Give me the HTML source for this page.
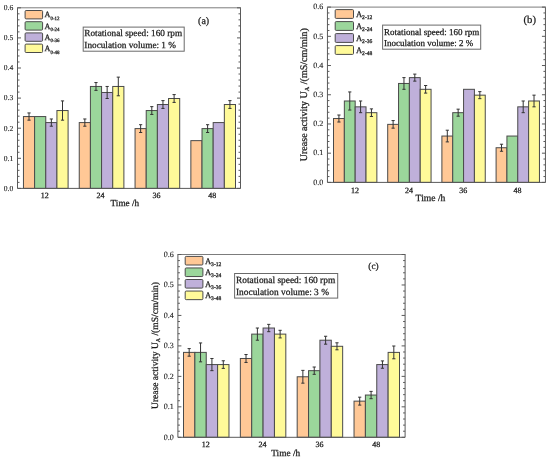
<!DOCTYPE html>
<html><head><meta charset="utf-8"><title>Urease activity charts</title>
<style>
html,body{margin:0;padding:0;background:#fff;}
body{width:550px;height:458px;overflow:hidden;}
svg{display:block;text-rendering:geometricPrecision;}
text{font-family:'Liberation Serif', 'Times New Roman', serif;fill:#1a1a1a;stroke:#1a1a1a;stroke-width:0.25px;}
.tk{stroke-width:0.12px;}
</style></head><body>
<svg width="550" height="458" viewBox="0 0 550 458">
<rect width="550" height="458" fill="#fff"/>
<rect x="23.45" y="116.56" width="11.16" height="71.84" fill="#FFC896" stroke="#4a4a4a" stroke-width="1"/>
<rect x="34.61" y="116.56" width="11.16" height="71.84" fill="#9BD69B" stroke="#4a4a4a" stroke-width="1"/>
<rect x="45.77" y="122.58" width="11.16" height="65.82" fill="#BFB0DA" stroke="#4a4a4a" stroke-width="1"/>
<rect x="56.93" y="110.54" width="11.16" height="77.86" fill="#FFFA99" stroke="#4a4a4a" stroke-width="1"/>
<rect x="79.25" y="122.58" width="11.16" height="65.82" fill="#FFC896" stroke="#4a4a4a" stroke-width="1"/>
<rect x="90.41" y="86.46" width="11.16" height="101.94" fill="#9BD69B" stroke="#4a4a4a" stroke-width="1"/>
<rect x="101.57" y="92.48" width="11.16" height="95.92" fill="#BFB0DA" stroke="#4a4a4a" stroke-width="1"/>
<rect x="112.73" y="86.46" width="11.16" height="101.94" fill="#FFFA99" stroke="#4a4a4a" stroke-width="1"/>
<rect x="135.06" y="128.6" width="11.16" height="59.8" fill="#FFC896" stroke="#4a4a4a" stroke-width="1"/>
<rect x="146.22" y="110.54" width="11.16" height="77.86" fill="#9BD69B" stroke="#4a4a4a" stroke-width="1"/>
<rect x="157.38" y="104.52" width="11.16" height="83.88" fill="#BFB0DA" stroke="#4a4a4a" stroke-width="1"/>
<rect x="168.54" y="98.5" width="11.16" height="89.9" fill="#FFFA99" stroke="#4a4a4a" stroke-width="1"/>
<rect x="190.86" y="140.64" width="11.16" height="47.76" fill="#FFC896" stroke="#4a4a4a" stroke-width="1"/>
<rect x="202.02" y="128.6" width="11.16" height="59.8" fill="#9BD69B" stroke="#4a4a4a" stroke-width="1"/>
<rect x="213.18" y="122.58" width="11.16" height="65.82" fill="#BFB0DA" stroke="#4a4a4a" stroke-width="1"/>
<rect x="224.34" y="104.52" width="11.16" height="83.88" fill="#FFFA99" stroke="#4a4a4a" stroke-width="1"/>
<path d="M29.03 112.95V120.17M27.43 112.95H30.63M27.43 120.17H30.63" stroke="#333" stroke-width="1" fill="none"/>
<path d="M51.35 118.97V126.19M49.75 118.97H52.95M49.75 126.19H52.95" stroke="#333" stroke-width="1" fill="none"/>
<path d="M62.51 100.91V120.17M60.91 100.91H64.11M60.91 120.17H64.11" stroke="#333" stroke-width="1" fill="none"/>
<path d="M84.83 118.97V126.19M83.23 118.97H86.43M83.23 126.19H86.43" stroke="#333" stroke-width="1" fill="none"/>
<path d="M95.99 82.55V90.37M94.39 82.55H97.59M94.39 90.37H97.59" stroke="#333" stroke-width="1" fill="none"/>
<path d="M107.15 86.46V98.5M105.55 86.46H108.75M105.55 98.5H108.75" stroke="#333" stroke-width="1" fill="none"/>
<path d="M118.31 77.13V95.79M116.71 77.13H119.91M116.71 95.79H119.91" stroke="#333" stroke-width="1" fill="none"/>
<path d="M140.64 124.69V132.51M139.04 124.69H142.24M139.04 132.51H142.24" stroke="#333" stroke-width="1" fill="none"/>
<path d="M151.8 106.63V114.45M150.2 106.63H153.4M150.2 114.45H153.4" stroke="#333" stroke-width="1" fill="none"/>
<path d="M162.96 100.61V108.43M161.36 100.61H164.56M161.36 108.43H164.56" stroke="#333" stroke-width="1" fill="none"/>
<path d="M174.12 94.59V102.41M172.52 94.59H175.72M172.52 102.41H175.72" stroke="#333" stroke-width="1" fill="none"/>
<path d="M207.6 124.69V132.51M206 124.69H209.2M206 132.51H209.2" stroke="#333" stroke-width="1" fill="none"/>
<path d="M229.92 100.61V108.43M228.32 100.61H231.52M228.32 108.43H231.52" stroke="#333" stroke-width="1" fill="none"/>
<path d="M17.5 7.8V188.4H240.5V7.8" fill="none" stroke="#5a5a5a" stroke-width="1"/>
<path d="M17 7.8H241" fill="none" stroke="#7c7c7c" stroke-width="1"/>
<path d="M17.5 188.4h3.5M240.5 188.4h-3.5M17.5 182.38h2M240.5 182.38h-2M17.5 176.36h2M240.5 176.36h-2M17.5 170.34h2M240.5 170.34h-2M17.5 164.32h2M240.5 164.32h-2M17.5 158.3h3.5M240.5 158.3h-3.5M17.5 152.28h2M240.5 152.28h-2M17.5 146.26h2M240.5 146.26h-2M17.5 140.24h2M240.5 140.24h-2M17.5 134.22h2M240.5 134.22h-2M17.5 128.2h3.5M240.5 128.2h-3.5M17.5 122.18h2M240.5 122.18h-2M17.5 116.16h2M240.5 116.16h-2M17.5 110.14h2M240.5 110.14h-2M17.5 104.12h2M240.5 104.12h-2M17.5 98.1h3.5M240.5 98.1h-3.5M17.5 92.08h2M240.5 92.08h-2M17.5 86.06h2M240.5 86.06h-2M17.5 80.04h2M240.5 80.04h-2M17.5 74.02h2M240.5 74.02h-2M17.5 68h3.5M240.5 68h-3.5M17.5 61.98h2M240.5 61.98h-2M17.5 55.96h2M240.5 55.96h-2M17.5 49.94h2M240.5 49.94h-2M17.5 43.92h2M240.5 43.92h-2M17.5 37.9h3.5M240.5 37.9h-3.5M17.5 31.88h2M240.5 31.88h-2M17.5 25.86h2M240.5 25.86h-2M17.5 19.84h2M240.5 19.84h-2M17.5 13.82h2M240.5 13.82h-2M17.5 7.8h3.5M240.5 7.8h-3.5" stroke="#5a5a5a" stroke-width="1" fill="none"/>
<text x="13.3" y="190.7" font-size="7.6" text-anchor="end" class="tk">0.0</text>
<text x="13.3" y="160.6" font-size="7.6" text-anchor="end" class="tk">0.1</text>
<text x="13.3" y="130.5" font-size="7.6" text-anchor="end" class="tk">0.2</text>
<text x="13.3" y="100.4" font-size="7.6" text-anchor="end" class="tk">0.3</text>
<text x="13.3" y="70.3" font-size="7.6" text-anchor="end" class="tk">0.4</text>
<text x="13.3" y="40.2" font-size="7.6" text-anchor="end" class="tk">0.5</text>
<text x="13.3" y="10.1" font-size="7.6" text-anchor="end" class="tk">0.6</text>
<text x="44.77" y="198.2" font-size="8" text-anchor="middle">12</text>
<text x="100.57" y="198.2" font-size="8" text-anchor="middle">24</text>
<text x="156.38" y="198.2" font-size="8" text-anchor="middle">36</text>
<text x="212.18" y="198.2" font-size="8" text-anchor="middle">48</text>
<text x="124.85" y="205.8" font-size="9.2" text-anchor="middle">Time /h</text>
<rect x="25.1" y="10.5" width="17.5" height="8.4" rx="1" fill="#FFC896" stroke="#4a4a4a" stroke-width="1"/>
<text x="44.5" y="17.4" font-size="8.2">A<tspan font-size="5.0" dy="2.5">0-12</tspan></text>
<rect x="25.1" y="21.7" width="17.5" height="8.4" rx="1" fill="#9BD69B" stroke="#4a4a4a" stroke-width="1"/>
<text x="44.5" y="28.6" font-size="8.2">A<tspan font-size="5.0" dy="2.5">0-24</tspan></text>
<rect x="25.1" y="32.9" width="17.5" height="8.4" rx="1" fill="#BFB0DA" stroke="#4a4a4a" stroke-width="1"/>
<text x="44.5" y="39.8" font-size="8.2">A<tspan font-size="5.0" dy="2.5">0-36</tspan></text>
<rect x="25.1" y="44.1" width="17.5" height="8.4" rx="1" fill="#FFFA99" stroke="#4a4a4a" stroke-width="1"/>
<text x="44.5" y="51" font-size="8.2">A<tspan font-size="5.0" dy="2.5">0-48</tspan></text>
<rect x="83.2" y="27.1" width="101" height="24.1" fill="#fff" stroke="#6a6a6a" stroke-width="1"/>
<text x="84.3" y="36.2" font-size="9.25">Rotational speed: 160 rpm</text>
<text x="84.3" y="48" font-size="9.25">Inoculation volume: 1 %</text>
<text x="198.1" y="24" font-size="10">(a)</text>
<rect x="333.5" y="118.52" width="10.84" height="63.88" fill="#FFC896" stroke="#4a4a4a" stroke-width="1"/>
<rect x="344.34" y="100.99" width="10.84" height="81.41" fill="#9BD69B" stroke="#4a4a4a" stroke-width="1"/>
<rect x="355.18" y="106.84" width="10.84" height="75.56" fill="#BFB0DA" stroke="#4a4a4a" stroke-width="1"/>
<rect x="366.02" y="112.68" width="10.84" height="69.72" fill="#FFFA99" stroke="#4a4a4a" stroke-width="1"/>
<rect x="387.7" y="124.37" width="10.84" height="58.03" fill="#FFC896" stroke="#4a4a4a" stroke-width="1"/>
<rect x="398.54" y="83.46" width="10.84" height="98.94" fill="#9BD69B" stroke="#4a4a4a" stroke-width="1"/>
<rect x="409.38" y="77.62" width="10.84" height="104.78" fill="#BFB0DA" stroke="#4a4a4a" stroke-width="1"/>
<rect x="420.22" y="89.31" width="10.84" height="93.09" fill="#FFFA99" stroke="#4a4a4a" stroke-width="1"/>
<rect x="441.89" y="136.05" width="10.84" height="46.35" fill="#FFC896" stroke="#4a4a4a" stroke-width="1"/>
<rect x="452.73" y="112.68" width="10.84" height="69.72" fill="#9BD69B" stroke="#4a4a4a" stroke-width="1"/>
<rect x="463.57" y="89.31" width="10.84" height="93.09" fill="#BFB0DA" stroke="#4a4a4a" stroke-width="1"/>
<rect x="474.41" y="95.15" width="10.84" height="87.25" fill="#FFFA99" stroke="#4a4a4a" stroke-width="1"/>
<rect x="496.09" y="147.74" width="10.84" height="34.66" fill="#FFC896" stroke="#4a4a4a" stroke-width="1"/>
<rect x="506.93" y="136.05" width="10.84" height="46.35" fill="#9BD69B" stroke="#4a4a4a" stroke-width="1"/>
<rect x="517.77" y="106.84" width="10.84" height="75.56" fill="#BFB0DA" stroke="#4a4a4a" stroke-width="1"/>
<rect x="528.61" y="100.99" width="10.84" height="81.41" fill="#FFFA99" stroke="#4a4a4a" stroke-width="1"/>
<path d="M338.92 115.02V122.03M337.32 115.02H340.52M337.32 122.03H340.52" stroke="#333" stroke-width="1" fill="none"/>
<path d="M349.76 91.94V110.05M348.16 91.94H351.36M348.16 110.05H351.36" stroke="#333" stroke-width="1" fill="none"/>
<path d="M360.6 100.99V112.68M359 100.99H362.2M359 112.68H362.2" stroke="#333" stroke-width="1" fill="none"/>
<path d="M371.44 108.88V116.48M369.84 108.88H373.04M369.84 116.48H373.04" stroke="#333" stroke-width="1" fill="none"/>
<path d="M393.12 120.57V128.16M391.52 120.57H394.72M391.52 128.16H394.72" stroke="#333" stroke-width="1" fill="none"/>
<path d="M403.96 77.62V89.31M402.36 77.62H405.56M402.36 89.31H405.56" stroke="#333" stroke-width="1" fill="none"/>
<path d="M414.8 74.11V81.13M413.2 74.11H416.4M413.2 81.13H416.4" stroke="#333" stroke-width="1" fill="none"/>
<path d="M425.64 85.51V93.1M424.04 85.51H427.24M424.04 93.1H427.24" stroke="#333" stroke-width="1" fill="none"/>
<path d="M447.31 130.21V141.9M445.71 130.21H448.91M445.71 141.9H448.91" stroke="#333" stroke-width="1" fill="none"/>
<path d="M458.15 109.17V116.19M456.55 109.17H459.75M456.55 116.19H459.75" stroke="#333" stroke-width="1" fill="none"/>
<path d="M479.83 91.64V98.66M478.23 91.64H481.43M478.23 98.66H481.43" stroke="#333" stroke-width="1" fill="none"/>
<path d="M501.51 144.23V151.25M499.91 144.23H503.11M499.91 151.25H503.11" stroke="#333" stroke-width="1" fill="none"/>
<path d="M523.19 100.99V112.68M521.59 100.99H524.79M521.59 112.68H524.79" stroke="#333" stroke-width="1" fill="none"/>
<path d="M534.03 95.15V106.84M532.43 95.15H535.63M532.43 106.84H535.63" stroke="#333" stroke-width="1" fill="none"/>
<path d="M327.45 7.1V182.4H545.45V7.1" fill="none" stroke="#5a5a5a" stroke-width="1"/>
<path d="M326.95 7.1H545.95" fill="none" stroke="#7c7c7c" stroke-width="1"/>
<path d="M327.45 182.4h3.5M545.45 182.4h-3.5M327.45 176.56h2M545.45 176.56h-2M327.45 170.71h2M545.45 170.71h-2M327.45 164.87h2M545.45 164.87h-2M327.45 159.03h2M545.45 159.03h-2M327.45 153.18h3.5M545.45 153.18h-3.5M327.45 147.34h2M545.45 147.34h-2M327.45 141.5h2M545.45 141.5h-2M327.45 135.65h2M545.45 135.65h-2M327.45 129.81h2M545.45 129.81h-2M327.45 123.97h3.5M545.45 123.97h-3.5M327.45 118.12h2M545.45 118.12h-2M327.45 112.28h2M545.45 112.28h-2M327.45 106.44h2M545.45 106.44h-2M327.45 100.59h2M545.45 100.59h-2M327.45 94.75h3.5M545.45 94.75h-3.5M327.45 88.91h2M545.45 88.91h-2M327.45 83.06h2M545.45 83.06h-2M327.45 77.22h2M545.45 77.22h-2M327.45 71.38h2M545.45 71.38h-2M327.45 65.53h3.5M545.45 65.53h-3.5M327.45 59.69h2M545.45 59.69h-2M327.45 53.85h2M545.45 53.85h-2M327.45 48h2M545.45 48h-2M327.45 42.16h2M545.45 42.16h-2M327.45 36.32h3.5M545.45 36.32h-3.5M327.45 30.47h2M545.45 30.47h-2M327.45 24.63h2M545.45 24.63h-2M327.45 18.79h2M545.45 18.79h-2M327.45 12.94h2M545.45 12.94h-2M327.45 7.1h3.5M545.45 7.1h-3.5" stroke="#5a5a5a" stroke-width="1" fill="none"/>
<text x="323.25" y="184.7" font-size="8" text-anchor="end" class="tk">0.0</text>
<text x="323.25" y="155.48" font-size="8" text-anchor="end" class="tk">0.1</text>
<text x="323.25" y="126.27" font-size="8" text-anchor="end" class="tk">0.2</text>
<text x="323.25" y="97.05" font-size="8" text-anchor="end" class="tk">0.3</text>
<text x="323.25" y="67.83" font-size="8" text-anchor="end" class="tk">0.4</text>
<text x="323.25" y="38.62" font-size="8" text-anchor="end" class="tk">0.5</text>
<text x="323.25" y="9.4" font-size="8" text-anchor="end" class="tk">0.6</text>
<text x="354.88" y="192.7" font-size="8" text-anchor="middle">12</text>
<text x="409.08" y="192.7" font-size="8" text-anchor="middle">24</text>
<text x="463.27" y="192.7" font-size="8" text-anchor="middle">36</text>
<text x="517.47" y="192.7" font-size="8" text-anchor="middle">48</text>
<text x="430.5" y="201" font-size="9.6" text-anchor="middle">Time /h</text>
<text transform="translate(306.8 94.65) rotate(-90)" font-size="10" text-anchor="middle">Urease activity U<tspan font-size="6.2" dy="2">A</tspan><tspan dy="-2"> /(mS/cm/min)</tspan></text>
<rect x="335.2" y="9.6" width="18.3" height="8.8" rx="1" fill="#FFC896" stroke="#4a4a4a" stroke-width="1"/>
<text x="355.9" y="16.8" font-size="8.6">A<tspan font-size="5.6" dy="1.9">2-12</tspan></text>
<rect x="335.2" y="21.6" width="18.3" height="8.8" rx="1" fill="#9BD69B" stroke="#4a4a4a" stroke-width="1"/>
<text x="355.9" y="28.8" font-size="8.6">A<tspan font-size="5.6" dy="1.9">2-24</tspan></text>
<rect x="335.2" y="33.6" width="18.3" height="8.8" rx="1" fill="#BFB0DA" stroke="#4a4a4a" stroke-width="1"/>
<text x="355.9" y="40.8" font-size="8.6">A<tspan font-size="5.6" dy="1.9">2-36</tspan></text>
<rect x="335.2" y="45.6" width="18.3" height="8.8" rx="1" fill="#FFFA99" stroke="#4a4a4a" stroke-width="1"/>
<text x="355.9" y="52.8" font-size="8.6">A<tspan font-size="5.6" dy="1.9">2-48</tspan></text>
<rect x="382.6" y="25.1" width="98.1" height="24.1" fill="#fff" stroke="#6a6a6a" stroke-width="1"/>
<text x="384" y="34.7" font-size="9.0">Rotational speed: 160 rpm</text>
<text x="384" y="46" font-size="9.0">Inoculation volume: 2 %</text>
<text x="523.6" y="22.6" font-size="10.6">(b)</text>
<rect x="183.5" y="352.39" width="11.37" height="84.91" fill="#FFC896" stroke="#4a4a4a" stroke-width="1"/>
<rect x="194.87" y="352.39" width="11.37" height="84.91" fill="#9BD69B" stroke="#4a4a4a" stroke-width="1"/>
<rect x="206.24" y="364.58" width="11.37" height="72.72" fill="#BFB0DA" stroke="#4a4a4a" stroke-width="1"/>
<rect x="217.61" y="364.58" width="11.37" height="72.72" fill="#FFFA99" stroke="#4a4a4a" stroke-width="1"/>
<rect x="240.34" y="358.49" width="11.37" height="78.81" fill="#FFC896" stroke="#4a4a4a" stroke-width="1"/>
<rect x="251.71" y="334.11" width="11.37" height="103.19" fill="#9BD69B" stroke="#4a4a4a" stroke-width="1"/>
<rect x="263.08" y="328.02" width="11.37" height="109.28" fill="#BFB0DA" stroke="#4a4a4a" stroke-width="1"/>
<rect x="274.45" y="334.11" width="11.37" height="103.19" fill="#FFFA99" stroke="#4a4a4a" stroke-width="1"/>
<rect x="297.18" y="376.77" width="11.37" height="60.53" fill="#FFC896" stroke="#4a4a4a" stroke-width="1"/>
<rect x="308.55" y="370.67" width="11.37" height="66.63" fill="#9BD69B" stroke="#4a4a4a" stroke-width="1"/>
<rect x="319.92" y="340.21" width="11.37" height="97.09" fill="#BFB0DA" stroke="#4a4a4a" stroke-width="1"/>
<rect x="331.29" y="346.3" width="11.37" height="91" fill="#FFFA99" stroke="#4a4a4a" stroke-width="1"/>
<rect x="354.03" y="401.14" width="11.37" height="36.16" fill="#FFC896" stroke="#4a4a4a" stroke-width="1"/>
<rect x="365.39" y="395.05" width="11.37" height="42.25" fill="#9BD69B" stroke="#4a4a4a" stroke-width="1"/>
<rect x="376.76" y="364.58" width="11.37" height="72.72" fill="#BFB0DA" stroke="#4a4a4a" stroke-width="1"/>
<rect x="388.13" y="352.39" width="11.37" height="84.91" fill="#FFFA99" stroke="#4a4a4a" stroke-width="1"/>
<path d="M189.18 348.58V356.2M187.58 348.58H190.78M187.58 356.2H190.78" stroke="#333" stroke-width="1" fill="none"/>
<path d="M200.55 342.95V361.84M198.95 342.95H202.15M198.95 361.84H202.15" stroke="#333" stroke-width="1" fill="none"/>
<path d="M211.92 358.49V370.67M210.32 358.49H213.52M210.32 370.67H213.52" stroke="#333" stroke-width="1" fill="none"/>
<path d="M223.29 360.77V368.39M221.69 360.77H224.89M221.69 368.39H224.89" stroke="#333" stroke-width="1" fill="none"/>
<path d="M246.03 354.53V362.45M244.43 354.53H247.63M244.43 362.45H247.63" stroke="#333" stroke-width="1" fill="none"/>
<path d="M257.39 328.02V340.21M255.79 328.02H258.99M255.79 340.21H258.99" stroke="#333" stroke-width="1" fill="none"/>
<path d="M268.76 324.36V331.68M267.16 324.36H270.36M267.16 331.68H270.36" stroke="#333" stroke-width="1" fill="none"/>
<path d="M280.13 330.3V337.92M278.53 330.3H281.73M278.53 337.92H281.73" stroke="#333" stroke-width="1" fill="none"/>
<path d="M302.87 370.37V383.16M301.27 370.37H304.47M301.27 383.16H304.47" stroke="#333" stroke-width="1" fill="none"/>
<path d="M314.24 367.02V374.33M312.64 367.02H315.84M312.64 374.33H315.84" stroke="#333" stroke-width="1" fill="none"/>
<path d="M325.61 336.25V344.17M324.01 336.25H327.21M324.01 344.17H327.21" stroke="#333" stroke-width="1" fill="none"/>
<path d="M336.97 342.8V349.8M335.37 342.8H338.57M335.37 349.8H338.57" stroke="#333" stroke-width="1" fill="none"/>
<path d="M359.71 397.18V405.1M358.11 397.18H361.31M358.11 405.1H361.31" stroke="#333" stroke-width="1" fill="none"/>
<path d="M371.08 391.39V398.7M369.48 391.39H372.68M369.48 398.7H372.68" stroke="#333" stroke-width="1" fill="none"/>
<path d="M382.45 360.92V368.24M380.85 360.92H384.05M380.85 368.24H384.05" stroke="#333" stroke-width="1" fill="none"/>
<path d="M393.82 346V358.79M392.22 346H395.42M392.22 358.79H395.42" stroke="#333" stroke-width="1" fill="none"/>
<path d="M177.9 254.5V437.3H405.1V254.5" fill="none" stroke="#5a5a5a" stroke-width="1"/>
<path d="M177.4 254.5H405.6" fill="none" stroke="#7c7c7c" stroke-width="1"/>
<path d="M177.9 437.3h3.5M405.1 437.3h-3.5M177.9 431.21h2M405.1 431.21h-2M177.9 425.11h2M405.1 425.11h-2M177.9 419.02h2M405.1 419.02h-2M177.9 412.93h2M405.1 412.93h-2M177.9 406.83h3.5M405.1 406.83h-3.5M177.9 400.74h2M405.1 400.74h-2M177.9 394.65h2M405.1 394.65h-2M177.9 388.55h2M405.1 388.55h-2M177.9 382.46h2M405.1 382.46h-2M177.9 376.37h3.5M405.1 376.37h-3.5M177.9 370.27h2M405.1 370.27h-2M177.9 364.18h2M405.1 364.18h-2M177.9 358.09h2M405.1 358.09h-2M177.9 351.99h2M405.1 351.99h-2M177.9 345.9h3.5M405.1 345.9h-3.5M177.9 339.81h2M405.1 339.81h-2M177.9 333.71h2M405.1 333.71h-2M177.9 327.62h2M405.1 327.62h-2M177.9 321.53h2M405.1 321.53h-2M177.9 315.43h3.5M405.1 315.43h-3.5M177.9 309.34h2M405.1 309.34h-2M177.9 303.25h2M405.1 303.25h-2M177.9 297.15h2M405.1 297.15h-2M177.9 291.06h2M405.1 291.06h-2M177.9 284.97h3.5M405.1 284.97h-3.5M177.9 278.87h2M405.1 278.87h-2M177.9 272.78h2M405.1 272.78h-2M177.9 266.69h2M405.1 266.69h-2M177.9 260.59h2M405.1 260.59h-2M177.9 254.5h3.5M405.1 254.5h-3.5" stroke="#5a5a5a" stroke-width="1" fill="none"/>
<text x="173.7" y="439.6" font-size="8" text-anchor="end" class="tk">0.0</text>
<text x="173.7" y="409.13" font-size="8" text-anchor="end" class="tk">0.1</text>
<text x="173.7" y="378.67" font-size="8" text-anchor="end" class="tk">0.2</text>
<text x="173.7" y="348.2" font-size="8" text-anchor="end" class="tk">0.3</text>
<text x="173.7" y="317.73" font-size="8" text-anchor="end" class="tk">0.4</text>
<text x="173.7" y="287.27" font-size="8" text-anchor="end" class="tk">0.5</text>
<text x="173.7" y="256.8" font-size="8" text-anchor="end" class="tk">0.6</text>
<text x="205.74" y="447.2" font-size="8" text-anchor="middle">12</text>
<text x="262.58" y="447.2" font-size="8" text-anchor="middle">24</text>
<text x="319.42" y="447.2" font-size="8" text-anchor="middle">36</text>
<text x="376.26" y="447.2" font-size="8" text-anchor="middle">48</text>
<text x="285.7" y="455.9" font-size="9.3" text-anchor="middle">Time /h</text>
<text transform="translate(157.6 345.5) rotate(-90)" font-size="9.55" text-anchor="middle">Urease activity U<tspan font-size="5.92" dy="2">A</tspan><tspan dy="-2"> /(mS/cm/min)</tspan></text>
<rect x="185.2" y="256.4" width="17.7" height="8.6" rx="1" fill="#FFC896" stroke="#4a4a4a" stroke-width="1"/>
<text x="204.9" y="263.5" font-size="8.6">A<tspan font-size="5.6" dy="2.0">3-12</tspan></text>
<rect x="185.2" y="267.95" width="17.7" height="8.6" rx="1" fill="#9BD69B" stroke="#4a4a4a" stroke-width="1"/>
<text x="204.9" y="275.05" font-size="8.6">A<tspan font-size="5.6" dy="2.0">3-24</tspan></text>
<rect x="185.2" y="279.5" width="17.7" height="8.6" rx="1" fill="#BFB0DA" stroke="#4a4a4a" stroke-width="1"/>
<text x="204.9" y="286.6" font-size="8.6">A<tspan font-size="5.6" dy="2.0">3-36</tspan></text>
<rect x="185.2" y="291.05" width="17.7" height="8.6" rx="1" fill="#FFFA99" stroke="#4a4a4a" stroke-width="1"/>
<text x="204.9" y="298.15" font-size="8.6">A<tspan font-size="5.6" dy="2.0">3-48</tspan></text>
<rect x="234.6" y="273.5" width="103.1" height="24.6" fill="#fff" stroke="#6a6a6a" stroke-width="1"/>
<text x="236" y="283.3" font-size="9.4">Rotational speed: 160 rpm</text>
<text x="236" y="294.5" font-size="9.4">Inoculation volume: 3 %</text>
<text x="368.3" y="269.2" font-size="9.3">(c)</text>
</svg>
</body></html>
